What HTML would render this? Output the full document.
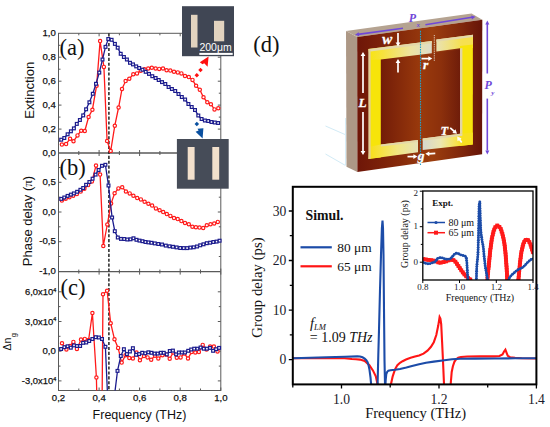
<!DOCTYPE html>
<html><head><meta charset="utf-8"><title>Figure</title>
<style>html,body{margin:0;padding:0;background:#fff;}svg{display:block;}</style>
</head><body>
<svg width="550" height="427" viewBox="0 0 550 427">
<defs><clipPath id="ca"><rect x="55.5" y="30.3" width="168.3" height="122.7"/></clipPath>
<clipPath id="cb"><rect x="55.5" y="153" width="168.3" height="118.6"/></clipPath>
<clipPath id="cc"><rect x="55.5" y="271.6" width="168.3" height="118.9"/></clipPath>
<clipPath id="cg"><rect x="292.8" y="186.8" width="243.6" height="197.6"/></clipPath>
<clipPath id="ci"><rect x="422.8" y="191" width="110.2" height="89"/></clipPath>
<linearGradient id="gfront" x1="357" y1="0" x2="482" y2="0" gradientUnits="userSpaceOnUse">
<stop offset="0" stop-color="#6e1608"/><stop offset="0.35" stop-color="#862a0a"/><stop offset="0.6" stop-color="#9c3e0e"/><stop offset="0.85" stop-color="#7e260c"/><stop offset="1" stop-color="#661408"/></linearGradient>
<linearGradient id="ginner" x1="381" y1="0" x2="461" y2="0" gradientUnits="userSpaceOnUse">
<stop offset="0" stop-color="#731c08"/><stop offset="0.5" stop-color="#9a3a0c"/><stop offset="0.75" stop-color="#8c300c"/><stop offset="1" stop-color="#6e1c0a"/></linearGradient>
<linearGradient id="gtopL" x1="370" y1="0" x2="432" y2="0" gradientUnits="userSpaceOnUse">
<stop offset="0" stop-color="#f8e414"/><stop offset="0.22" stop-color="#f6e240"/><stop offset="0.65" stop-color="#eee4a0"/><stop offset="1" stop-color="#dcdccc"/></linearGradient>
<linearGradient id="gbotL" x1="372" y1="0" x2="418" y2="0" gradientUnits="userSpaceOnUse">
<stop offset="0" stop-color="#f8e020"/><stop offset="0.55" stop-color="#f2e682"/><stop offset="1" stop-color="#e6e2b8"/></linearGradient>
<linearGradient id="gbotR" x1="423" y1="0" x2="462" y2="0" gradientUnits="userSpaceOnUse">
<stop offset="0" stop-color="#d6d6ce"/><stop offset="0.45" stop-color="#ece6b0"/><stop offset="0.85" stop-color="#f6e450"/><stop offset="1" stop-color="#f8e020"/></linearGradient>
<linearGradient id="gtopR" x1="437" y1="0" x2="462" y2="0" gradientUnits="userSpaceOnUse">
<stop offset="0" stop-color="#eae2b0"/><stop offset="1" stop-color="#f6e050"/></linearGradient></defs>
<rect width="550" height="427" fill="#fff"/>
<rect x="58.5" y="33.3" width="162.3" height="357.2" fill="none" stroke="#5a5a5a" stroke-width="1"/>
<line x1="58.5" y1="153" x2="220.8" y2="153" stroke="#5a5a5a" stroke-width="1.4"/>
<line x1="58.5" y1="271.6" x2="220.8" y2="271.6" stroke="#5a5a5a" stroke-width="1.4"/>
<path d="M58.5,33.3 v3 M58.5,153 v-3 M99.1,33.3 v3 M99.1,153 v-3 M139.6,33.3 v3 M139.6,153 v-3 M180.2,33.3 v3 M180.2,153 v-3 M220.8,33.3 v3 M220.8,153 v-3 M78.8,33.3 v2 M78.8,153 v-2 M119.4,33.3 v2 M119.4,153 v-2 M159.9,33.3 v2 M159.9,153 v-2 M200.5,33.3 v2 M200.5,153 v-2 M58.5,153 v3 M58.5,271.6 v-3 M99.1,153 v3 M99.1,271.6 v-3 M139.6,153 v3 M139.6,271.6 v-3 M180.2,153 v3 M180.2,271.6 v-3 M220.8,153 v3 M220.8,271.6 v-3 M78.8,153 v2 M78.8,271.6 v-2 M119.4,153 v2 M119.4,271.6 v-2 M159.9,153 v2 M159.9,271.6 v-2 M200.5,153 v2 M200.5,271.6 v-2 M58.5,271.6 v3 M58.5,390.5 v-3 M99.1,271.6 v3 M99.1,390.5 v-3 M139.6,271.6 v3 M139.6,390.5 v-3 M180.2,271.6 v3 M180.2,390.5 v-3 M220.8,271.6 v3 M220.8,390.5 v-3 M78.8,271.6 v2 M78.8,390.5 v-2 M119.4,271.6 v2 M119.4,390.5 v-2 M159.9,271.6 v2 M159.9,390.5 v-2 M200.5,271.6 v2 M200.5,390.5 v-2 M58.5,129.1 h3 M220.8,129.1 h-3 M58.5,105.1 h3 M220.8,105.1 h-3 M58.5,81.2 h3 M220.8,81.2 h-3 M58.5,57.2 h3 M220.8,57.2 h-3 M58.5,141 h2 M220.8,141 h-2 M58.5,117.1 h2 M220.8,117.1 h-2 M58.5,93.2 h2 M220.8,93.2 h-2 M58.5,69.2 h2 M220.8,69.2 h-2 M58.5,45.3 h2 M220.8,45.3 h-2 M58.5,182.3 h3 M220.8,182.3 h-3 M58.5,212 h3 M220.8,212 h-3 M58.5,241.7 h3 M220.8,241.7 h-3 M58.5,167.5 h2 M220.8,167.5 h-2 M58.5,197.2 h2 M220.8,197.2 h-2 M58.5,226.8 h2 M220.8,226.8 h-2 M58.5,256.5 h2 M220.8,256.5 h-2 M58.5,291.8 h3 M220.8,291.8 h-3 M58.5,321.5 h3 M220.8,321.5 h-3 M58.5,351.2 h3 M220.8,351.2 h-3 M58.5,380.9 h3 M220.8,380.9 h-3 M58.5,306.6 h2 M220.8,306.6 h-2 M58.5,336.3 h2 M220.8,336.3 h-2 M58.5,366.1 h2 M220.8,366.1 h-2" stroke="#5a5a5a" stroke-width="1" fill="none"/>
<line x1="108.9" y1="33.3" x2="108.9" y2="390.5" stroke="#222" stroke-width="1.5" stroke-dasharray="3.1,1.8"/>
<g clip-path="url(#ca)" fill="#fff" stroke="#ff1a1a" stroke-width="1.2">
<polyline points="61.9,144.6 66.1,144.1 70.1,138.7 73.5,141.3 77.5,135.4 81.2,130.7 84.8,131 88.6,117 92.4,109.7 96.6,85.7 100.1,41.1 103.9,66.9 107.1,141.1 110.7,151 114.8,125.7 118.6,107.5 122,89 125.6,81.1 129.3,78.7 133.3,74.3 137,73.4 140.8,70.7 144.4,69.3 148.2,68.5 151.8,67.7 155.6,68.5 159.2,68.9 163,68.5 166.6,70.2 170.3,70.6 174,71.7 177.8,72.4 181.4,73.4 185,76 188.8,77.1 192.5,79.9 196.1,85.8 199.8,89.8 203.5,97.3 207.3,102.2 210.9,104.2 214.5,109.4 218.3,108.3" fill="none" stroke="#ff1a1a" stroke-width="1.3"/>
<circle cx="61.9" cy="144.6" r="1.65"/>
<circle cx="66.1" cy="144.1" r="1.65"/>
<circle cx="70.1" cy="138.7" r="1.65"/>
<circle cx="73.5" cy="141.3" r="1.65"/>
<circle cx="77.5" cy="135.4" r="1.65"/>
<circle cx="81.2" cy="130.7" r="1.65"/>
<circle cx="84.8" cy="131" r="1.65"/>
<circle cx="88.6" cy="117" r="1.65"/>
<circle cx="92.4" cy="109.7" r="1.65"/>
<circle cx="96.6" cy="85.7" r="1.65"/>
<circle cx="100.1" cy="41.1" r="1.65"/>
<circle cx="103.9" cy="66.9" r="1.65"/>
<circle cx="107.1" cy="141.1" r="1.65"/>
<circle cx="110.7" cy="151" r="1.65"/>
<circle cx="114.8" cy="125.7" r="1.65"/>
<circle cx="118.6" cy="107.5" r="1.65"/>
<circle cx="122" cy="89" r="1.65"/>
<circle cx="125.6" cy="81.1" r="1.65"/>
<circle cx="129.3" cy="78.7" r="1.65"/>
<circle cx="133.3" cy="74.3" r="1.65"/>
<circle cx="137" cy="73.4" r="1.65"/>
<circle cx="140.8" cy="70.7" r="1.65"/>
<circle cx="144.4" cy="69.3" r="1.65"/>
<circle cx="148.2" cy="68.5" r="1.65"/>
<circle cx="151.8" cy="67.7" r="1.65"/>
<circle cx="155.6" cy="68.5" r="1.65"/>
<circle cx="159.2" cy="68.9" r="1.65"/>
<circle cx="163" cy="68.5" r="1.65"/>
<circle cx="166.6" cy="70.2" r="1.65"/>
<circle cx="170.3" cy="70.6" r="1.65"/>
<circle cx="174" cy="71.7" r="1.65"/>
<circle cx="177.8" cy="72.4" r="1.65"/>
<circle cx="181.4" cy="73.4" r="1.65"/>
<circle cx="185" cy="76" r="1.65"/>
<circle cx="188.8" cy="77.1" r="1.65"/>
<circle cx="192.5" cy="79.9" r="1.65"/>
<circle cx="196.1" cy="85.8" r="1.65"/>
<circle cx="199.8" cy="89.8" r="1.65"/>
<circle cx="203.5" cy="97.3" r="1.65"/>
<circle cx="207.3" cy="102.2" r="1.65"/>
<circle cx="210.9" cy="104.2" r="1.65"/>
<circle cx="214.5" cy="109.4" r="1.65"/>
<circle cx="218.3" cy="108.3" r="1.65"/>
</g>
<g clip-path="url(#ca)" fill="#fff" stroke="#1c1c8e" stroke-width="1.2">
<polyline points="61.2,139.7 64.3,138 67.6,134.3 70.9,131.3 73.9,128.4 76.8,123.9 79.9,120 83.2,115.4 86.1,109.3 89.4,102.3 92.8,93.8 96,83.8 99.3,72.6 102.5,59.5 105.5,46.9 108.3,39 111.6,39.8 114.9,43.9 117.7,47.7 120.7,53.8 123.9,57 126.9,59.5 130,62.8 133,64.4 136.2,66.4 139.2,68 142.5,69.7 145.7,71.8 149,73.9 152.3,76.2 155.6,78 158.7,80 162,82.1 165.3,84 168.6,87 171.9,89 175.2,91 178.5,94 181.8,97 185.1,99.5 188.4,104 191.7,107 195,110 198.3,115.5 201.6,119 204.9,120.5 208.2,121 211.5,122 214.8,122.5 218.1,123" fill="none" stroke="#1c1c8e" stroke-width="1.3"/>
<rect x="59.8" y="138.3" width="2.8" height="2.8"/>
<rect x="62.9" y="136.6" width="2.8" height="2.8"/>
<rect x="66.2" y="132.9" width="2.8" height="2.8"/>
<rect x="69.5" y="129.9" width="2.8" height="2.8"/>
<rect x="72.5" y="127" width="2.8" height="2.8"/>
<rect x="75.4" y="122.5" width="2.8" height="2.8"/>
<rect x="78.5" y="118.6" width="2.8" height="2.8"/>
<rect x="81.8" y="114" width="2.8" height="2.8"/>
<rect x="84.7" y="107.9" width="2.8" height="2.8"/>
<rect x="88" y="100.9" width="2.8" height="2.8"/>
<rect x="91.4" y="92.4" width="2.8" height="2.8"/>
<rect x="94.6" y="82.4" width="2.8" height="2.8"/>
<rect x="97.9" y="71.2" width="2.8" height="2.8"/>
<rect x="101.1" y="58.1" width="2.8" height="2.8"/>
<rect x="104.1" y="45.5" width="2.8" height="2.8"/>
<rect x="106.9" y="37.6" width="2.8" height="2.8"/>
<rect x="110.2" y="38.4" width="2.8" height="2.8"/>
<rect x="113.5" y="42.5" width="2.8" height="2.8"/>
<rect x="116.3" y="46.3" width="2.8" height="2.8"/>
<rect x="119.3" y="52.4" width="2.8" height="2.8"/>
<rect x="122.5" y="55.6" width="2.8" height="2.8"/>
<rect x="125.5" y="58.1" width="2.8" height="2.8"/>
<rect x="128.6" y="61.4" width="2.8" height="2.8"/>
<rect x="131.6" y="63" width="2.8" height="2.8"/>
<rect x="134.8" y="65" width="2.8" height="2.8"/>
<rect x="137.8" y="66.6" width="2.8" height="2.8"/>
<rect x="141.1" y="68.3" width="2.8" height="2.8"/>
<rect x="144.3" y="70.4" width="2.8" height="2.8"/>
<rect x="147.6" y="72.5" width="2.8" height="2.8"/>
<rect x="150.9" y="74.8" width="2.8" height="2.8"/>
<rect x="154.2" y="76.6" width="2.8" height="2.8"/>
<rect x="157.3" y="78.6" width="2.8" height="2.8"/>
<rect x="160.6" y="80.7" width="2.8" height="2.8"/>
<rect x="163.9" y="82.6" width="2.8" height="2.8"/>
<rect x="167.2" y="85.6" width="2.8" height="2.8"/>
<rect x="170.5" y="87.6" width="2.8" height="2.8"/>
<rect x="173.8" y="89.6" width="2.8" height="2.8"/>
<rect x="177.1" y="92.6" width="2.8" height="2.8"/>
<rect x="180.4" y="95.6" width="2.8" height="2.8"/>
<rect x="183.7" y="98.1" width="2.8" height="2.8"/>
<rect x="187" y="102.6" width="2.8" height="2.8"/>
<rect x="190.3" y="105.6" width="2.8" height="2.8"/>
<rect x="193.6" y="108.6" width="2.8" height="2.8"/>
<rect x="196.9" y="114.1" width="2.8" height="2.8"/>
<rect x="200.2" y="117.6" width="2.8" height="2.8"/>
<rect x="203.5" y="119.1" width="2.8" height="2.8"/>
<rect x="206.8" y="119.6" width="2.8" height="2.8"/>
<rect x="210.1" y="120.6" width="2.8" height="2.8"/>
<rect x="213.4" y="121.1" width="2.8" height="2.8"/>
<rect x="216.7" y="121.6" width="2.8" height="2.8"/>
</g>
<g clip-path="url(#cb)" fill="#fff" stroke="#ff1a1a" stroke-width="1.2">
<polyline points="61.9,200.6 65.7,198.8 69.4,197.2 73.2,195.7 76.9,193.9 80.7,191.6 84.4,188.7 88.2,185.1 91.9,181.4 96,165.6 100.1,174.6 103.3,246 107.3,224.5 111.1,203.6 114.6,193.2 118.4,188.4 122.2,187.2 125.9,191.5 129.7,193.4 133.4,195.8 137.2,198.1 140.9,199.4 144.6,201.8 148.4,203.7 152.1,205.6 155.9,208.4 159.6,210.3 163.2,212.1 166.8,214.1 170.4,215.9 174,218.1 177.7,219.1 181.4,221.1 185,223 188.8,224.3 192.4,226.8 195.9,227.3 199.5,227.6 203.2,228 206.8,225.2 210.5,224.3 214.2,223.5 217.8,221.9" fill="none" stroke="#ff1a1a" stroke-width="1.3"/>
<circle cx="61.9" cy="200.6" r="1.65"/>
<circle cx="65.7" cy="198.8" r="1.65"/>
<circle cx="69.4" cy="197.2" r="1.65"/>
<circle cx="73.2" cy="195.7" r="1.65"/>
<circle cx="76.9" cy="193.9" r="1.65"/>
<circle cx="80.7" cy="191.6" r="1.65"/>
<circle cx="84.4" cy="188.7" r="1.65"/>
<circle cx="88.2" cy="185.1" r="1.65"/>
<circle cx="91.9" cy="181.4" r="1.65"/>
<circle cx="96" cy="165.6" r="1.65"/>
<circle cx="100.1" cy="174.6" r="1.65"/>
<circle cx="103.3" cy="246" r="1.65"/>
<circle cx="107.3" cy="224.5" r="1.65"/>
<circle cx="111.1" cy="203.6" r="1.65"/>
<circle cx="114.6" cy="193.2" r="1.65"/>
<circle cx="118.4" cy="188.4" r="1.65"/>
<circle cx="122.2" cy="187.2" r="1.65"/>
<circle cx="125.9" cy="191.5" r="1.65"/>
<circle cx="129.7" cy="193.4" r="1.65"/>
<circle cx="133.4" cy="195.8" r="1.65"/>
<circle cx="137.2" cy="198.1" r="1.65"/>
<circle cx="140.9" cy="199.4" r="1.65"/>
<circle cx="144.6" cy="201.8" r="1.65"/>
<circle cx="148.4" cy="203.7" r="1.65"/>
<circle cx="152.1" cy="205.6" r="1.65"/>
<circle cx="155.9" cy="208.4" r="1.65"/>
<circle cx="159.6" cy="210.3" r="1.65"/>
<circle cx="163.2" cy="212.1" r="1.65"/>
<circle cx="166.8" cy="214.1" r="1.65"/>
<circle cx="170.4" cy="215.9" r="1.65"/>
<circle cx="174" cy="218.1" r="1.65"/>
<circle cx="177.7" cy="219.1" r="1.65"/>
<circle cx="181.4" cy="221.1" r="1.65"/>
<circle cx="185" cy="223" r="1.65"/>
<circle cx="188.8" cy="224.3" r="1.65"/>
<circle cx="192.4" cy="226.8" r="1.65"/>
<circle cx="195.9" cy="227.3" r="1.65"/>
<circle cx="199.5" cy="227.6" r="1.65"/>
<circle cx="203.2" cy="228" r="1.65"/>
<circle cx="206.8" cy="225.2" r="1.65"/>
<circle cx="210.5" cy="224.3" r="1.65"/>
<circle cx="214.2" cy="223.5" r="1.65"/>
<circle cx="217.8" cy="221.9" r="1.65"/>
</g>
<g clip-path="url(#cb)" fill="#fff" stroke="#1c1c8e" stroke-width="1.2">
<polyline points="61.2,198.9 64.3,197.5 67.6,195.9 70.9,194.6 73.9,193.4 77.1,191.8 80.4,189.8 83.2,188 86.1,184.8 89.4,182 92.6,178.7 95.6,174.6 98.6,170 102,165.8 105.4,164.8 108.5,185.5 112.1,217.5 114.8,231.2 117.8,237.5 121,238.9 124.2,239 127.3,239.5 130.5,239.3 133.5,238.3 136.5,239.8 139.5,240.6 142.5,241.2 145.5,242 148.5,242.4 151.5,242.8 154.8,243.4 158.3,244 162,244.5 165.8,245.6 169.5,246.3 173,246.8 176.6,247.4 180.2,248 183.7,248.1 187.1,248.1 190.4,247.6 193.7,247.3 197,246.5 200.2,245.3 203.5,244.3 206.8,243.2 210.1,242.7 213.4,242 216.6,241.6 219.6,240.7" fill="none" stroke="#1c1c8e" stroke-width="1.3"/>
<rect x="59.8" y="197.5" width="2.8" height="2.8"/>
<rect x="62.9" y="196.1" width="2.8" height="2.8"/>
<rect x="66.2" y="194.5" width="2.8" height="2.8"/>
<rect x="69.5" y="193.2" width="2.8" height="2.8"/>
<rect x="72.5" y="192" width="2.8" height="2.8"/>
<rect x="75.7" y="190.4" width="2.8" height="2.8"/>
<rect x="79" y="188.4" width="2.8" height="2.8"/>
<rect x="81.8" y="186.6" width="2.8" height="2.8"/>
<rect x="84.7" y="183.4" width="2.8" height="2.8"/>
<rect x="88" y="180.6" width="2.8" height="2.8"/>
<rect x="91.2" y="177.3" width="2.8" height="2.8"/>
<rect x="94.2" y="173.2" width="2.8" height="2.8"/>
<rect x="97.2" y="168.6" width="2.8" height="2.8"/>
<rect x="100.6" y="164.4" width="2.8" height="2.8"/>
<rect x="104" y="163.4" width="2.8" height="2.8"/>
<rect x="107.1" y="184.1" width="2.8" height="2.8"/>
<rect x="110.7" y="216.1" width="2.8" height="2.8"/>
<rect x="113.4" y="229.8" width="2.8" height="2.8"/>
<rect x="116.4" y="236.1" width="2.8" height="2.8"/>
<rect x="119.6" y="237.5" width="2.8" height="2.8"/>
<rect x="122.8" y="237.6" width="2.8" height="2.8"/>
<rect x="125.9" y="238.1" width="2.8" height="2.8"/>
<rect x="129.1" y="237.9" width="2.8" height="2.8"/>
<rect x="132.1" y="236.9" width="2.8" height="2.8"/>
<rect x="135.1" y="238.4" width="2.8" height="2.8"/>
<rect x="138.1" y="239.2" width="2.8" height="2.8"/>
<rect x="141.1" y="239.8" width="2.8" height="2.8"/>
<rect x="144.1" y="240.6" width="2.8" height="2.8"/>
<rect x="147.1" y="241" width="2.8" height="2.8"/>
<rect x="150.1" y="241.4" width="2.8" height="2.8"/>
<rect x="153.4" y="242" width="2.8" height="2.8"/>
<rect x="156.9" y="242.6" width="2.8" height="2.8"/>
<rect x="160.6" y="243.1" width="2.8" height="2.8"/>
<rect x="164.4" y="244.2" width="2.8" height="2.8"/>
<rect x="168.1" y="244.9" width="2.8" height="2.8"/>
<rect x="171.6" y="245.4" width="2.8" height="2.8"/>
<rect x="175.2" y="246" width="2.8" height="2.8"/>
<rect x="178.8" y="246.6" width="2.8" height="2.8"/>
<rect x="182.3" y="246.7" width="2.8" height="2.8"/>
<rect x="185.7" y="246.7" width="2.8" height="2.8"/>
<rect x="189" y="246.2" width="2.8" height="2.8"/>
<rect x="192.3" y="245.9" width="2.8" height="2.8"/>
<rect x="195.6" y="245.1" width="2.8" height="2.8"/>
<rect x="198.8" y="243.9" width="2.8" height="2.8"/>
<rect x="202.1" y="242.9" width="2.8" height="2.8"/>
<rect x="205.4" y="241.8" width="2.8" height="2.8"/>
<rect x="208.7" y="241.3" width="2.8" height="2.8"/>
<rect x="212" y="240.6" width="2.8" height="2.8"/>
<rect x="215.2" y="240.2" width="2.8" height="2.8"/>
<rect x="218.2" y="239.3" width="2.8" height="2.8"/>
</g>
<g clip-path="url(#cc)" fill="#fff" stroke="#ff1a1a" stroke-width="1.2">
<polyline points="62,343.2 66.4,349.5 69.9,346 73.4,341.9 76.9,348.9 81,339.6 84.8,338.9 88.6,340 92.4,313 96.4,377.5 100.7,566 103,294.3 107.1,290.8 110.7,323.2 114.5,339.3 118.1,347.9 121.7,362.6 125.5,355.2 129.3,358 132.9,358.5 136.5,352.5 139.9,360.2 144,356.1 147.6,357.4 151.2,359.7 155,355.7 158.3,358.5 162.4,355.2 166,354.4 169.7,358.8 173.2,352.5 176.8,357.7 180.6,357.4 184.3,353.6 188,358.5 191.6,352 195.3,352.5 198.9,352 202.7,344.9 206.5,349.5 210.1,346.6 213.9,346.6 217.5,351.5" fill="none" stroke="#ff1a1a" stroke-width="1.3"/>
<circle cx="62" cy="343.2" r="1.65"/>
<circle cx="66.4" cy="349.5" r="1.65"/>
<circle cx="69.9" cy="346" r="1.65"/>
<circle cx="73.4" cy="341.9" r="1.65"/>
<circle cx="76.9" cy="348.9" r="1.65"/>
<circle cx="81" cy="339.6" r="1.65"/>
<circle cx="84.8" cy="338.9" r="1.65"/>
<circle cx="88.6" cy="340" r="1.65"/>
<circle cx="92.4" cy="313" r="1.65"/>
<circle cx="96.4" cy="377.5" r="1.65"/>
<circle cx="100.7" cy="566" r="1.65"/>
<circle cx="103" cy="294.3" r="1.65"/>
<circle cx="107.1" cy="290.8" r="1.65"/>
<circle cx="110.7" cy="323.2" r="1.65"/>
<circle cx="114.5" cy="339.3" r="1.65"/>
<circle cx="118.1" cy="347.9" r="1.65"/>
<circle cx="121.7" cy="362.6" r="1.65"/>
<circle cx="125.5" cy="355.2" r="1.65"/>
<circle cx="129.3" cy="358" r="1.65"/>
<circle cx="132.9" cy="358.5" r="1.65"/>
<circle cx="136.5" cy="352.5" r="1.65"/>
<circle cx="139.9" cy="360.2" r="1.65"/>
<circle cx="144" cy="356.1" r="1.65"/>
<circle cx="147.6" cy="357.4" r="1.65"/>
<circle cx="151.2" cy="359.7" r="1.65"/>
<circle cx="155" cy="355.7" r="1.65"/>
<circle cx="158.3" cy="358.5" r="1.65"/>
<circle cx="162.4" cy="355.2" r="1.65"/>
<circle cx="166" cy="354.4" r="1.65"/>
<circle cx="169.7" cy="358.8" r="1.65"/>
<circle cx="173.2" cy="352.5" r="1.65"/>
<circle cx="176.8" cy="357.7" r="1.65"/>
<circle cx="180.6" cy="357.4" r="1.65"/>
<circle cx="184.3" cy="353.6" r="1.65"/>
<circle cx="188" cy="358.5" r="1.65"/>
<circle cx="191.6" cy="352" r="1.65"/>
<circle cx="195.3" cy="352.5" r="1.65"/>
<circle cx="198.9" cy="352" r="1.65"/>
<circle cx="202.7" cy="344.9" r="1.65"/>
<circle cx="206.5" cy="349.5" r="1.65"/>
<circle cx="210.1" cy="346.6" r="1.65"/>
<circle cx="213.9" cy="346.6" r="1.65"/>
<circle cx="217.5" cy="351.5" r="1.65"/>
</g>
<g clip-path="url(#cc)" fill="#fff" stroke="#1c1c8e" stroke-width="1.2">
<polyline points="61.1,349 64.4,347.2 67.6,346.3 70.8,347.7 74,345.4 77,346 80.1,346 83.1,342.8 86.2,342.5 89.2,341 92.4,339 95.7,337.2 98.9,337.5 102,339 105.4,346.8 109.4,437 117.5,370.9 120.8,356 123.9,349.2 126.9,354.1 129.9,351.5 132.9,348.2 136.1,354.8 139.1,354.1 142.2,352.8 145.3,353.3 148.4,352.3 151.5,352.8 154.6,353.6 157.7,353.6 160.8,352.8 163.8,352.8 166.8,354.4 169.8,351 172.9,350.6 176.1,354.4 178.9,352.5 181.9,352.5 185,352.5 188.2,350.8 191.2,349.5 194.2,348.7 197.4,348.7 200.6,347.5 203.8,348.7 206.9,348.7 210,347.9 213.1,350.8 216.1,349.2 219.1,347.9" fill="none" stroke="#1c1c8e" stroke-width="1.3"/>
<rect x="59.7" y="347.6" width="2.8" height="2.8"/>
<rect x="63" y="345.8" width="2.8" height="2.8"/>
<rect x="66.2" y="344.9" width="2.8" height="2.8"/>
<rect x="69.4" y="346.3" width="2.8" height="2.8"/>
<rect x="72.6" y="344" width="2.8" height="2.8"/>
<rect x="75.6" y="344.6" width="2.8" height="2.8"/>
<rect x="78.7" y="344.6" width="2.8" height="2.8"/>
<rect x="81.7" y="341.4" width="2.8" height="2.8"/>
<rect x="84.8" y="341.1" width="2.8" height="2.8"/>
<rect x="87.8" y="339.6" width="2.8" height="2.8"/>
<rect x="91" y="337.6" width="2.8" height="2.8"/>
<rect x="94.3" y="335.8" width="2.8" height="2.8"/>
<rect x="97.5" y="336.1" width="2.8" height="2.8"/>
<rect x="100.6" y="337.6" width="2.8" height="2.8"/>
<rect x="104" y="345.4" width="2.8" height="2.8"/>
<rect x="108" y="435.6" width="2.8" height="2.8"/>
<rect x="116.1" y="369.5" width="2.8" height="2.8"/>
<rect x="119.4" y="354.6" width="2.8" height="2.8"/>
<rect x="122.5" y="347.8" width="2.8" height="2.8"/>
<rect x="125.5" y="352.7" width="2.8" height="2.8"/>
<rect x="128.5" y="350.1" width="2.8" height="2.8"/>
<rect x="131.5" y="346.8" width="2.8" height="2.8"/>
<rect x="134.7" y="353.4" width="2.8" height="2.8"/>
<rect x="137.7" y="352.7" width="2.8" height="2.8"/>
<rect x="140.8" y="351.4" width="2.8" height="2.8"/>
<rect x="143.9" y="351.9" width="2.8" height="2.8"/>
<rect x="147" y="350.9" width="2.8" height="2.8"/>
<rect x="150.1" y="351.4" width="2.8" height="2.8"/>
<rect x="153.2" y="352.2" width="2.8" height="2.8"/>
<rect x="156.3" y="352.2" width="2.8" height="2.8"/>
<rect x="159.4" y="351.4" width="2.8" height="2.8"/>
<rect x="162.4" y="351.4" width="2.8" height="2.8"/>
<rect x="165.4" y="353" width="2.8" height="2.8"/>
<rect x="168.4" y="349.6" width="2.8" height="2.8"/>
<rect x="171.5" y="349.2" width="2.8" height="2.8"/>
<rect x="174.7" y="353" width="2.8" height="2.8"/>
<rect x="177.5" y="351.1" width="2.8" height="2.8"/>
<rect x="180.5" y="351.1" width="2.8" height="2.8"/>
<rect x="183.6" y="351.1" width="2.8" height="2.8"/>
<rect x="186.8" y="349.4" width="2.8" height="2.8"/>
<rect x="189.8" y="348.1" width="2.8" height="2.8"/>
<rect x="192.8" y="347.3" width="2.8" height="2.8"/>
<rect x="196" y="347.3" width="2.8" height="2.8"/>
<rect x="199.2" y="346.1" width="2.8" height="2.8"/>
<rect x="202.4" y="347.3" width="2.8" height="2.8"/>
<rect x="205.5" y="347.3" width="2.8" height="2.8"/>
<rect x="208.6" y="346.5" width="2.8" height="2.8"/>
<rect x="211.7" y="349.4" width="2.8" height="2.8"/>
<rect x="214.7" y="347.8" width="2.8" height="2.8"/>
<rect x="217.7" y="346.5" width="2.8" height="2.8"/>
</g>
<g font-family='"Liberation Sans", sans-serif' fill="#111" stroke="#111" stroke-width="0.25"><text x="55.8" y="35.9" text-anchor="end" font-size="9.6">1,0</text>
<text x="55.8" y="59.8" text-anchor="end" font-size="9.6">0,8</text>
<text x="55.8" y="83.8" text-anchor="end" font-size="9.6">0,6</text>
<text x="55.8" y="107.7" text-anchor="end" font-size="9.6">0,4</text>
<text x="55.8" y="131.7" text-anchor="end" font-size="9.6">0,2</text>
<text x="55.8" y="155.6" text-anchor="end" font-size="9.6">0,0</text>
<text x="55.8" y="184.9" text-anchor="end" font-size="9.6">0,5</text>
<text x="55.8" y="214.6" text-anchor="end" font-size="9.6">0,0</text>
<text x="55.8" y="244.2" text-anchor="end" font-size="9.6">-0,5</text>
<text x="55.8" y="273.9" text-anchor="end" font-size="9.6">-1,0</text>
<text x="56.2" y="295.2" text-anchor="end" font-size="9.4">6,0x10<tspan font-size="5.5" dy="-3.5">4</tspan></text>
<text x="56.2" y="324.9" text-anchor="end" font-size="9.4">3,0x10<tspan font-size="5.5" dy="-3.5">4</tspan></text>
<text x="55.8" y="354" text-anchor="end" font-size="9.6">0,0</text>
<text x="56.2" y="384.3" text-anchor="end" font-size="9.4">-3,0x10<tspan font-size="5.5" dy="-3.5">4</tspan></text>
<text x="58.5" y="400.8" text-anchor="middle" font-size="9.6">0,2</text>
<text x="99.1" y="400.8" text-anchor="middle" font-size="9.6">0,4</text>
<text x="139.6" y="400.8" text-anchor="middle" font-size="9.6">0,6</text>
<text x="180.2" y="400.8" text-anchor="middle" font-size="9.6">0,8</text>
<text x="220.8" y="400.8" text-anchor="middle" font-size="9.6">1,0</text></g>
<text x="139.5" y="419.3" text-anchor="middle" font-family='"Liberation Sans", sans-serif' font-size="12.5" fill="#111">Frequency (THz)</text>
<text transform="translate(33.8,90.2) rotate(-90)" text-anchor="middle" font-family='"Liberation Sans", sans-serif' font-size="13.2" fill="#111">Extinction</text>
<text transform="translate(31.6,221) rotate(-90)" text-anchor="middle" font-family='"Liberation Sans", sans-serif' font-size="13" fill="#111">Phase delay (<tspan font-family='"Liberation Serif", serif'>&#960;</tspan>)</text>
<text transform="translate(11.3,350.4) rotate(-90)" text-anchor="start" font-family='"Liberation Sans", sans-serif' font-size="10.5" fill="#111"><tspan font-size="10.2">&#916;</tspan>n<tspan font-size="7.5" dy="4.6" dx="0.6">g</tspan></text>
<text x="59.6" y="54.6" font-family='"Liberation Serif", serif' font-size="22.5" fill="#111">(a)</text>
<text x="59.6" y="174.8" font-family='"Liberation Serif", serif' font-size="22.5" fill="#111">(b)</text>
<text x="60.5" y="294.6" font-family='"Liberation Serif", serif' font-size="22.5" fill="#111">(c)</text>
<text x="253.3" y="51.5" font-family='"Liberation Serif", serif' font-size="22.5" fill="#111">(d)</text>
<rect x="182" y="6.2" width="52" height="50" fill="#404654"/><rect x="191" y="14.8" width="6.5" height="32.7" fill="#e2d3bf"/><rect x="214" y="20.8" width="10.2" height="20.5" fill="#e2d3bf"/>
<text x="215.6" y="50.8" text-anchor="middle" font-family='"Liberation Sans", sans-serif' font-size="10.5" fill="#fff">200&#956;m</text>
<rect x="199.3" y="52.9" width="33.4" height="2" fill="#fff"/>
<rect x="176.9" y="139" width="51.8" height="49.7" fill="#464c58"/><rect x="187.7" y="147" width="6.9" height="32.7" fill="#f2e0cc"/><rect x="212.3" y="147" width="6.9" height="32.7" fill="#f2e0cc"/>
<g fill="#ff1010"><rect x="195.2" y="73.7" width="3.2" height="3.2" transform="rotate(45 196.8 75.3)"/><rect x="198.9" y="68.3" width="3.2" height="3.2" transform="rotate(45 200.5 69.9)"/><polygon points="208.6,56.4 199.8,62.2 202.5,64.2 204.2,63.3 207.6,66.8"/></g>
<g fill="#0a50a0"><rect x="195.2" y="122.3" width="3.2" height="3.2" transform="rotate(45 196.8 123.9)"/><polygon points="195.6,131.8 198.6,130.6 197.5,128.7 203.4,128.2 202.6,138.4"/></g>
<g clip-path="url(#cg)" fill="none" stroke-width="2.1" stroke-linejoin="miter" stroke-miterlimit="4">
<path d="M293,358.2 L320,358.2 L344.5,358.3 L351.8,359 L356,359.2 L360,359.6 L364.7,361 L369.4,365.1 L372.9,370.4 L375.8,376.3 L377.5,384 L378.5,400 L390.5,400 L391,384 L392.7,376.3 L395.1,369.2 L397.4,365.1 L400,362.8 L402.6,361.2 L406,359.5 L410.6,357.8 L415,356.6 L419.1,355.5 L423.5,353.6 L427.5,350.6 L431,346.8 L433.8,342.2 L436.3,335 L438.3,325.3 L439.6,317 L440.4,318.5 L441.2,324 L442.1,342 L443.1,363.3 L444,384 L444.5,400 L450,400 L450.7,384 L451.7,372 L452.9,366.2 L454.5,361.6 L456.3,359.2 L458.2,357.8 L461,357 L467.3,356.5 L480,356.4 L494.5,356.4 L499.5,356 L502.5,354.4 L504.2,351.2 L505.4,349.6 L506.6,352.8 L507.8,355.8 L510,357.2 L515,357.9 L521.8,358.2 L536,358.5" stroke="#ff1515"/>
<path d="M293,358.2 L310,357.8 L326.4,357.3 L345,356.8 L357.3,356.4 L360,356.5 L362.5,357.3 L364.7,358.7 L366.3,360.2 L367.6,362.2 L368.6,365.5 L369.4,369.2 L370.5,377.4 L371.1,384 L371.6,400 L377,400 L377.6,384 L378.3,355 L379,330 L380,290 L381,255 L381.9,228 L382.5,220.5 L383,228 L383.5,255 L384,310 L384.5,360 L385,384 L385.3,386.5 L385.7,380 L386.3,374 L387.2,371.8 L388.4,370.8 L390.4,370.2 L395.1,369.7 L400,369 L406.4,367.6 L412,366 L419.1,364.3 L426,362.8 L433.8,361.6 L444.4,360.3 L452,359.3 L460,358.7 L475,358.6 L494.5,358.5 L515,358.3 L536,358.2" stroke="#1c4ca8"/>
</g>
<rect x="292.8" y="186.8" width="243.6" height="197.6" fill="none" stroke="#000" stroke-width="2"/>
<path d="M292.8,359.6 h-4 M292.8,310.1 h-4 M292.8,260.5 h-4 M292.8,211 h-4 M292.8,334.8 h-3 M292.8,285.3 h-3 M292.8,235.7 h-3 M341.5,384.4 v4 M439,384.4 v4 M536.4,384.4 v4 M292.8,384.4 v3 M390.2,384.4 v3 M487.7,384.4 v3" stroke="#000" stroke-width="1.3" fill="none"/>
<g font-family='"Liberation Serif", serif' font-size="13.6" fill="#1a1a2a"><text x="286.4" y="364.1" text-anchor="end">0</text>
<text x="286.4" y="314.6" text-anchor="end">10</text>
<text x="286.4" y="265" text-anchor="end">20</text>
<text x="286.4" y="215.5" text-anchor="end">30</text>
<text x="341.5" y="404.3" text-anchor="middle">1.0</text>
<text x="439" y="404.3" text-anchor="middle">1.2</text>
<text x="536.4" y="404.3" text-anchor="middle">1.4</text></g>
<text x="415.6" y="417.9" text-anchor="middle" font-family='"Liberation Serif", serif' font-size="14.6" fill="#111">Frequency (THz)</text>
<text transform="translate(262.3,287.5) rotate(-90)" text-anchor="middle" font-family='"Liberation Serif", serif' font-size="14.8" fill="#111">Group delay (ps)</text>
<text x="305.6" y="220.2" font-family='"Liberation Serif", serif' font-size="13.8" font-weight="bold" fill="#111">Simul.</text>
<line x1="300.5" y1="247.3" x2="331.8" y2="247.3" stroke="#1c4ca8" stroke-width="2.2"/>
<line x1="300.5" y1="266.3" x2="331.8" y2="266.3" stroke="#ff1515" stroke-width="2.2"/>
<text x="337.3" y="251.8" font-family='"Liberation Serif", serif' font-size="13.4" fill="#111">80 &#956;m</text>
<text x="337.3" y="270.6" font-family='"Liberation Serif", serif' font-size="13.4" fill="#111">65 &#956;m</text>
<text x="310" y="327.6" font-family='"Liberation Serif", serif' font-size="14.5" font-style="italic" fill="#111">f<tspan font-size="8.6" dy="2.6">LM</tspan></text>
<text x="309.8" y="341.8" font-family='"Liberation Serif", serif' font-size="14" fill="#111">= 1.09 <tspan font-style="italic">THz</tspan></text>
<rect x="422.8" y="191" width="110.2" height="89" fill="#fff"/>
<g clip-path="url(#ci)" fill="none" stroke-linejoin="round">
<path d="M423.3,259.1 L428,259.8 L434.2,260.7 L439.6,262.9 L443,262.2 L446.2,261.3 L449,260.2 L451.6,259.6 L453.8,260.2 L455.5,261.8 L457.1,264 L459.3,267.3 L461.4,270.5 L463.6,273.4 L465.8,276 L468,278 L470.2,279.3 L472,283 L486.8,283 L487.4,279 L488.3,270 L489.2,261 L490.3,250 L491.8,239 L493.6,231 L495.4,227 L497.2,225.5 L499,226.3 L500.8,229 L502.6,234.5 L504.2,242 L505.4,252 L506.2,262 L506.8,271 L507.2,279 L507.6,283 L518,283 L518.5,279 L519.3,270 L520.2,261 L521.4,252 L523,245 L524.8,240.5 L526.7,239.4 L528.6,240.5 L530.5,244.5 L532.5,251 L533.5,254" stroke="#ff1a1a" stroke-width="3.4"/>
<g fill="#ff1a1a"><rect x="421.4" y="257.2" width="3.8" height="3.8"/><rect x="424" y="257.6" width="3.8" height="3.8"/><rect x="426.5" y="258" width="3.8" height="3.8"/><rect x="429.1" y="258.3" width="3.8" height="3.8"/><rect x="431.7" y="258.7" width="3.8" height="3.8"/><rect x="434.1" y="259.5" width="3.8" height="3.8"/><rect x="436.5" y="260.5" width="3.8" height="3.8"/><rect x="439" y="260.7" width="3.8" height="3.8"/><rect x="441.6" y="260.2" width="3.8" height="3.8"/><rect x="444.1" y="259.5" width="3.8" height="3.8"/><rect x="446.5" y="258.5" width="3.8" height="3.8"/><rect x="449" y="257.9" width="3.8" height="3.8"/><rect x="451.5" y="258.2" width="3.8" height="3.8"/><rect x="453.5" y="259.8" width="3.8" height="3.8"/><rect x="455" y="261.9" width="3.8" height="3.8"/><rect x="456.5" y="264.1" width="3.8" height="3.8"/><rect x="457.9" y="266.2" width="3.8" height="3.8"/><rect x="459.4" y="268.4" width="3.8" height="3.8"/><rect x="460.9" y="270.5" width="3.8" height="3.8"/><rect x="462.5" y="272.5" width="3.8" height="3.8"/><rect x="464.3" y="274.4" width="3.8" height="3.8"/><rect x="466.2" y="276.2" width="3.8" height="3.8"/><rect x="468.4" y="277.6" width="3.8" height="3.8"/><rect x="485.6" y="276.5" width="3.8" height="3.8"/><rect x="485.8" y="273.9" width="3.8" height="3.8"/><rect x="486.1" y="271.3" width="3.8" height="3.8"/><rect x="486.3" y="268.7" width="3.8" height="3.8"/><rect x="486.6" y="266.1" width="3.8" height="3.8"/><rect x="486.9" y="263.6" width="3.8" height="3.8"/><rect x="487.1" y="261" width="3.8" height="3.8"/><rect x="487.4" y="258.4" width="3.8" height="3.8"/><rect x="487.6" y="255.8" width="3.8" height="3.8"/><rect x="487.9" y="253.2" width="3.8" height="3.8"/><rect x="488.1" y="250.6" width="3.8" height="3.8"/><rect x="488.4" y="248" width="3.8" height="3.8"/><rect x="488.8" y="245.5" width="3.8" height="3.8"/><rect x="489.1" y="242.9" width="3.8" height="3.8"/><rect x="489.5" y="240.3" width="3.8" height="3.8"/><rect x="489.8" y="237.7" width="3.8" height="3.8"/><rect x="490.3" y="235.2" width="3.8" height="3.8"/><rect x="490.9" y="232.6" width="3.8" height="3.8"/><rect x="491.5" y="230.1" width="3.8" height="3.8"/><rect x="492.3" y="227.7" width="3.8" height="3.8"/><rect x="493.4" y="225.3" width="3.8" height="3.8"/><rect x="495.3" y="223.6" width="3.8" height="3.8"/><rect x="497.5" y="225" width="3.8" height="3.8"/><rect x="498.9" y="227.1" width="3.8" height="3.8"/><rect x="499.7" y="229.6" width="3.8" height="3.8"/><rect x="500.5" y="232.1" width="3.8" height="3.8"/><rect x="501.1" y="234.6" width="3.8" height="3.8"/><rect x="501.7" y="237.1" width="3.8" height="3.8"/><rect x="502.2" y="239.7" width="3.8" height="3.8"/><rect x="502.6" y="242.3" width="3.8" height="3.8"/><rect x="502.9" y="244.8" width="3.8" height="3.8"/><rect x="503.2" y="247.4" width="3.8" height="3.8"/><rect x="503.5" y="250" width="3.8" height="3.8"/><rect x="503.7" y="252.6" width="3.8" height="3.8"/><rect x="503.9" y="255.2" width="3.8" height="3.8"/><rect x="504.1" y="257.8" width="3.8" height="3.8"/><rect x="504.3" y="260.4" width="3.8" height="3.8"/><rect x="504.5" y="263" width="3.8" height="3.8"/><rect x="504.7" y="265.6" width="3.8" height="3.8"/><rect x="504.8" y="268.1" width="3.8" height="3.8"/><rect x="505" y="270.7" width="3.8" height="3.8"/><rect x="505.1" y="273.3" width="3.8" height="3.8"/><rect x="505.2" y="275.9" width="3.8" height="3.8"/><rect x="505.4" y="278.5" width="3.8" height="3.8"/><rect x="516.4" y="278.5" width="3.8" height="3.8"/><rect x="516.7" y="275.9" width="3.8" height="3.8"/><rect x="516.9" y="273.3" width="3.8" height="3.8"/><rect x="517.2" y="270.7" width="3.8" height="3.8"/><rect x="517.4" y="268.1" width="3.8" height="3.8"/><rect x="517.7" y="265.6" width="3.8" height="3.8"/><rect x="517.9" y="263" width="3.8" height="3.8"/><rect x="518.2" y="260.4" width="3.8" height="3.8"/><rect x="518.5" y="257.8" width="3.8" height="3.8"/><rect x="518.8" y="255.2" width="3.8" height="3.8"/><rect x="519.2" y="252.7" width="3.8" height="3.8"/><rect x="519.5" y="250.1" width="3.8" height="3.8"/><rect x="520.1" y="247.5" width="3.8" height="3.8"/><rect x="520.7" y="245" width="3.8" height="3.8"/><rect x="521.3" y="242.5" width="3.8" height="3.8"/><rect x="522.3" y="240.1" width="3.8" height="3.8"/><rect x="523.8" y="238.1" width="3.8" height="3.8"/><rect x="526" y="238.2" width="3.8" height="3.8"/><rect x="527.5" y="240.2" width="3.8" height="3.8"/><rect x="528.6" y="242.6" width="3.8" height="3.8"/><rect x="529.4" y="245.1" width="3.8" height="3.8"/><rect x="530.1" y="247.6" width="3.8" height="3.8"/><rect x="530.9" y="250" width="3.8" height="3.8"/></g>
<path d="M423.3,262.4 L426,263.5 L428.7,264 L432,263 L435.3,261.8 L437.4,258.5 L440.7,257.4 L443,258.2 L445.1,259.1 L448,259.3 L450.5,258.8 L452.5,256.5 L454.9,253.6 L456.5,253.3 L458.2,253.6 L461.4,255.3 L464.7,255.8 L466.3,257.4 L466.9,262.9 L467.4,272.2 L468,281 L476.3,281 L476.8,266.4 L478,253.9 L478.6,231.2 L479.1,206.2 L479.8,201.6 L480.2,215 L480.6,228 L481.4,236 L482.3,242 L483.3,247 L484.1,256 L485,264 L485.7,269.1 L486.6,274 L487.4,279 L488,283 L508.5,283 L508.7,279 L510.5,276.3 L512.8,274 L515,272 L517.7,269.9 L520,268.8 L522.6,267.5 L525,265.3 L527.5,262.5 L530,260.3 L532.5,258.4 L533,258" stroke="#1c4ca8" stroke-width="1.6"/>
<g fill="#1c4ca8"><circle cx="423.3" cy="262.4" r="1.45"/><circle cx="425.5" cy="263.3" r="1.45"/><circle cx="427.9" cy="263.8" r="1.45"/><circle cx="430.2" cy="263.6" r="1.45"/><circle cx="432.5" cy="262.8" r="1.45"/><circle cx="434.7" cy="262" r="1.45"/><circle cx="436.3" cy="260.3" r="1.45"/><circle cx="437.7" cy="258.4" r="1.45"/><circle cx="439.9" cy="257.7" r="1.45"/><circle cx="442.2" cy="257.9" r="1.45"/><circle cx="444.4" cy="258.8" r="1.45"/><circle cx="446.8" cy="259.2" r="1.45"/><circle cx="449.1" cy="259.1" r="1.45"/><circle cx="451.2" cy="258" r="1.45"/><circle cx="452.7" cy="256.2" r="1.45"/><circle cx="454.3" cy="254.4" r="1.45"/><circle cx="456.3" cy="253.3" r="1.45"/><circle cx="458.6" cy="253.8" r="1.45"/><circle cx="460.7" cy="254.9" r="1.45"/><circle cx="463" cy="255.5" r="1.45"/><circle cx="465.2" cy="256.3" r="1.45"/><circle cx="466.4" cy="258.2" r="1.45"/><circle cx="466.6" cy="260.6" r="1.45"/><circle cx="466.9" cy="263" r="1.45"/><circle cx="467" cy="265.4" r="1.45"/><circle cx="467.2" cy="267.8" r="1.45"/><circle cx="467.3" cy="270.2" r="1.45"/><circle cx="467.4" cy="272.6" r="1.45"/><circle cx="467.6" cy="275" r="1.45"/><circle cx="467.8" cy="277.4" r="1.45"/><circle cx="467.9" cy="279.8" r="1.45"/><circle cx="476.4" cy="278.5" r="1.45"/><circle cx="476.5" cy="276.1" r="1.45"/><circle cx="476.5" cy="273.7" r="1.45"/><circle cx="476.6" cy="271.3" r="1.45"/><circle cx="476.7" cy="269" r="1.45"/><circle cx="476.8" cy="266.6" r="1.45"/><circle cx="477" cy="264.2" r="1.45"/><circle cx="477.2" cy="261.8" r="1.45"/><circle cx="477.5" cy="259.4" r="1.45"/><circle cx="477.7" cy="257" r="1.45"/><circle cx="477.9" cy="254.6" r="1.45"/><circle cx="478" cy="252.2" r="1.45"/><circle cx="478.1" cy="249.8" r="1.45"/><circle cx="478.2" cy="247.4" r="1.45"/><circle cx="478.2" cy="245" r="1.45"/><circle cx="478.3" cy="242.6" r="1.45"/><circle cx="478.4" cy="240.2" r="1.45"/><circle cx="478.4" cy="237.8" r="1.45"/><circle cx="478.5" cy="235.4" r="1.45"/><circle cx="478.6" cy="233" r="1.45"/><circle cx="478.6" cy="230.6" r="1.45"/><circle cx="478.7" cy="228.2" r="1.45"/><circle cx="478.7" cy="225.8" r="1.45"/><circle cx="478.8" cy="223.4" r="1.45"/><circle cx="478.8" cy="221" r="1.45"/><circle cx="478.9" cy="218.6" r="1.45"/><circle cx="478.9" cy="216.2" r="1.45"/><circle cx="478.9" cy="213.8" r="1.45"/><circle cx="479" cy="211.4" r="1.45"/><circle cx="479" cy="209" r="1.45"/><circle cx="479.1" cy="206.6" r="1.45"/><circle cx="479.4" cy="204.2" r="1.45"/><circle cx="479.8" cy="201.9" r="1.45"/><circle cx="479.9" cy="203.7" r="1.45"/><circle cx="479.9" cy="206.1" r="1.45"/><circle cx="480" cy="208.5" r="1.45"/><circle cx="480.1" cy="210.9" r="1.45"/><circle cx="480.1" cy="213.3" r="1.45"/><circle cx="480.2" cy="215.7" r="1.45"/><circle cx="480.3" cy="218.1" r="1.45"/><circle cx="480.4" cy="220.5" r="1.45"/><circle cx="480.4" cy="222.9" r="1.45"/><circle cx="480.5" cy="225.3" r="1.45"/><circle cx="480.6" cy="227.7" r="1.45"/><circle cx="480.8" cy="230.1" r="1.45"/><circle cx="481" cy="232.5" r="1.45"/><circle cx="481.3" cy="234.9" r="1.45"/><circle cx="481.6" cy="237.3" r="1.45"/><circle cx="481.9" cy="239.6" r="1.45"/><circle cx="482.3" cy="242" r="1.45"/><circle cx="482.8" cy="244.4" r="1.45"/><circle cx="483.2" cy="246.7" r="1.45"/><circle cx="483.5" cy="249.1" r="1.45"/><circle cx="483.7" cy="251.5" r="1.45"/><circle cx="483.9" cy="253.9" r="1.45"/><circle cx="484.1" cy="256.3" r="1.45"/><circle cx="484.4" cy="258.7" r="1.45"/><circle cx="484.7" cy="261" r="1.45"/><circle cx="484.9" cy="263.4" r="1.45"/><circle cx="485.2" cy="265.8" r="1.45"/><circle cx="485.6" cy="268.2" r="1.45"/><circle cx="486" cy="270.5" r="1.45"/><circle cx="486.4" cy="272.9" r="1.45"/><circle cx="486.8" cy="275.3" r="1.45"/><circle cx="487.2" cy="277.6" r="1.45"/><circle cx="487.6" cy="280" r="1.45"/><circle cx="508.6" cy="280.1" r="1.45"/><circle cx="509.4" cy="277.9" r="1.45"/><circle cx="510.8" cy="276" r="1.45"/><circle cx="512.5" cy="274.3" r="1.45"/><circle cx="514.3" cy="272.7" r="1.45"/><circle cx="516.1" cy="271.1" r="1.45"/><circle cx="518" cy="269.7" r="1.45"/><circle cx="520.2" cy="268.7" r="1.45"/><circle cx="522.4" cy="267.6" r="1.45"/><circle cx="524.2" cy="266.1" r="1.45"/><circle cx="525.8" cy="264.4" r="1.45"/><circle cx="527.4" cy="262.6" r="1.45"/><circle cx="529.2" cy="261" r="1.45"/><circle cx="531.1" cy="259.5" r="1.45"/></g>
</g>
<rect x="422.8" y="191" width="110.2" height="89" fill="none" stroke="#000" stroke-width="1.3"/>
<path d="M422.8,262.2 h-3 M422.8,226.7 h-3 M422.8,191.2 h-3 M422.8,244.4 h-2 M422.8,208.9 h-2 M422.8,280 v3 M459.5,280 v3 M496.3,280 v3 M533,280 v3" stroke="#000" stroke-width="1" fill="none"/>
<g font-family='"Liberation Serif", serif' font-size="9" fill="#1a1a2a"><text x="418" y="264.8" text-anchor="end">0</text>
<text x="418" y="229.3" text-anchor="end">1</text>
<text x="418" y="195.8" text-anchor="end">2</text>
<text x="422.8" y="290" text-anchor="middle">0.8</text>
<text x="459.5" y="290" text-anchor="middle">1.0</text>
<text x="496.3" y="290" text-anchor="middle">1.2</text>
<text x="533" y="290" text-anchor="middle">1.4</text></g>
<text x="480" y="301" text-anchor="middle" font-family='"Liberation Serif", serif' font-size="9.9" fill="#111">Frequency (THz)</text>
<text transform="translate(408,234) rotate(-90)" text-anchor="middle" font-family='"Liberation Serif", serif' font-size="10" fill="#111">Group delay (ps)</text>
<text x="432.2" y="206" font-family='"Liberation Serif", serif' font-size="9" font-weight="bold" fill="#111">Expt.</text>
<line x1="427.5" y1="222.5" x2="445" y2="222.5" stroke="#1c4ca8" stroke-width="1.5"/><circle cx="436" cy="222.5" r="1.6" fill="#1c4ca8"/>
<line x1="427.5" y1="232.7" x2="445" y2="232.7" stroke="#ff1a1a" stroke-width="1.5"/><rect x="434" y="230.7" width="4" height="4" fill="#ff1a1a"/>
<text x="448.5" y="225.6" font-family='"Liberation Serif", serif' font-size="10" fill="#111">80 &#956;m</text>
<text x="448.5" y="236" font-family='"Liberation Serif", serif' font-size="10" fill="#111">65 &#956;m</text>
<g stroke="#d2ebf6" stroke-width="1"><line x1="325.5" y1="126" x2="345" y2="134.5"/><line x1="325.5" y1="154" x2="345.5" y2="165.5"/><line x1="345.6" y1="118" x2="345.6" y2="165"/></g>
<polygon points="346,31 357.2,37 357.4,172 346.5,166.8" fill="#ad9886"/>
<polygon points="346,31 471.6,13.6 482.3,19.8 357.2,37" fill="#b5a391"/>
<polygon points="357.2,37 482.3,19.8 482.1,154.3 357.4,172" fill="url(#gfront)"/>
<polygon points="380.8,59.6 460,49.4 460,134.8 380.8,145" fill="url(#ginner)"/>
<polygon points="369.5,50 380.8,49 380.8,157.4 369.5,158.8" fill="#f7e40a"/>
<polygon points="368.3,49.1 431.8,40.9 431.8,53.2 380.8,59.6 370.6,59.9" fill="url(#gtopL)"/>
<polygon points="368.3,49.1 431.8,40.9 431.8,43.3 370.6,51.4" fill="#e4d8aa"/>
<polygon points="436.4,39.4 473,34.7 473,48 460,48.3 436.4,51.4" fill="url(#gtopR)"/>
<polygon points="436.4,39.4 473,34.7 473,37.1 436.4,41.8" fill="#e4d8aa"/>
<polygon points="460,46 472.9,44.6 472.8,144.4 460,146" fill="#f8e40c"/>
<polygon points="460,48.4 462.4,48.1 462.4,134 460,134.3" fill="#e2d4a4"/>
<polygon points="369.5,146.8 380.8,144.6 418,139.9 418,152.3 368.4,159" fill="url(#gbotL)"/>
<polygon points="380.8,144.6 418,139.9 418,141.9 380.8,146.6" fill="#e4d8aa"/>
<polygon points="422.7,138.5 460,133.8 472.8,132.5 472.8,144.4 422.7,150" fill="url(#gbotR)"/>
<polygon points="422.7,138.5 460,133.8 462.4,133.5 462.4,135.7 422.7,140.7" fill="#e4d8aa"/>
<polygon points="368.3,49.1 370.6,50 370.6,158.8 368.4,159" fill="#e2cf98"/>
<line x1="420.5" y1="30.8" x2="420.5" y2="165" stroke="#22a0cc" stroke-width="1.1" stroke-dasharray="1.6,1"/>
<line x1="434.3" y1="35" x2="434.3" y2="61" stroke="#e8e0d0" stroke-width="0.9" stroke-dasharray="1,0.8"/>
<g stroke="#fff" stroke-width="1.7"><line x1="363" y1="55" x2="363" y2="93" /><line x1="363" y1="112" x2="363" y2="152" /><line x1="398" y1="33" x2="398" y2="43" /><line x1="398" y1="62" x2="398" y2="72.5" /><line x1="421.5" y1="58.6" x2="429.5" y2="58.6" /><line x1="407.5" y1="156.6" x2="414.5" y2="156.6" /><line x1="435.3" y1="153.4" x2="428" y2="153.8" /><line x1="450.2" y1="127.8" x2="455" y2="132" /><line x1="461.7" y1="142.5" x2="458.6" y2="138" /></g>
<g fill="#fff"><polygon points="363,52 365.4,56 360.6,56"/><polygon points="363,155 360.6,151 365.4,151"/><polygon points="398,46.4 395.6,42.4 400.4,42.4"/><polygon points="398,58.9 400.4,62.9 395.6,62.9"/><polygon points="432.3,58.6 428.3,61 428.3,56.2"/><polygon points="417.4,156.6 413.4,159 413.4,154.2"/><polygon points="425.3,153.8 429.3,151.4 429.3,156.2"/><polygon points="457,133.7 452.4,133 455.5,129.3"/><polygon points="457.2,136.5 461.5,138.4 457.5,141.2"/></g>
<g font-family='"Liberation Serif", serif' font-style="italic" font-weight="bold" fill="#fff" stroke="#fff" stroke-width="0.3">
<text x="382.2" y="43.6" font-size="15">w</text>
<text x="423.1" y="69.4" font-size="13.5">r</text>
<text x="358.5" y="106.6" font-size="13.3">L</text>
<text x="417.7" y="159.6" font-size="13.5">g</text>
<text x="440.6" y="135.2" font-size="12.5">T</text>
</g>
<g stroke="#7048d8" stroke-width="1.6"><line x1="358" y1="34.4" x2="403" y2="28.2"/><line x1="425.4" y1="24.8" x2="472" y2="17.3"/><line x1="487.3" y1="24" x2="487.3" y2="73.5"/><line x1="487.3" y1="98.6" x2="487.3" y2="150.5"/></g>
<g fill="#7048d8"><polygon points="355,34.8 358.7,32.3 359.2,36.2"/><polygon points="475.5,16.8 471.9,19.4 471.2,15.5"/><polygon points="487.3,20.6 489.3,24.6 485.3,24.6"/><polygon points="487.3,154.4 485.3,150.4 489.3,150.4"/></g>
<g font-family='"Liberation Serif", serif' font-style="italic" font-weight="bold" fill="#7048d8"><text x="408.8" y="22.2" font-size="12">P</text><text x="416.4" y="26.6" font-size="7">x</text><text x="484.4" y="88.8" font-size="12">P</text><text x="491.2" y="94.5" font-size="7">y</text></g>
</svg>
</body></html>
